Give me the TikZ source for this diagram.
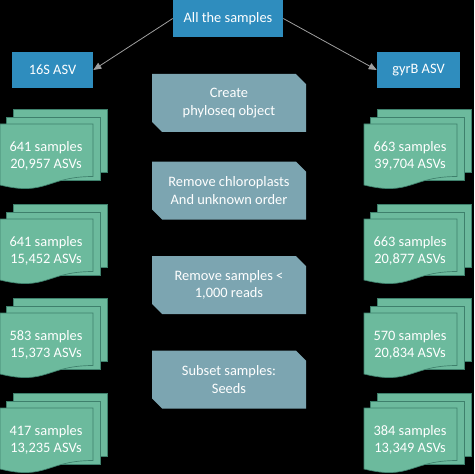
\documentclass[tikz,border=0pt]{standalone}
\usepackage{fontspec}
\setmainfont{Carlito}
\usetikzlibrary{positioning, arrows.meta, shapes.misc}

\definecolor{topblue}{RGB}{47,141,190}
\definecolor{stepgrey}{RGB}{124,165,177}
\definecolor{docgreen}{RGB}{108,186,157}
\definecolor{docedge}{RGB}{62,128,108}

\begin{document}
\begin{tikzpicture}[
  x=0.75pt, y=-0.75pt,
  font=\fontsize{10.8}{13}\selectfont,
  topbox/.style={fill=topblue, text=white, align=center, inner sep=2pt},
  stepbox/.style={chamfered rectangle, chamfered rectangle corners={north east, south west},
    chamfered rectangle xsep=4.5pt, fill=stepgrey, text=white, align=center,
    minimum width=115.5pt, minimum height=43.5pt, inner sep=0pt},
  sheet/.style={fill=docgreen, draw=docedge, line width=0.5pt},
  doctext/.style={text=white, align=center, inner sep=0pt},
  link/.style={-{Triangle[length=6pt, width=5pt]}, draw=gray!75, line width=0.6pt},
  docstack/.pic={
    \draw[sheet] (13,-15) rectangle (107,48);
    \draw[sheet] (6,-7) rectangle (100,56);
    \draw[sheet] (0,0) -- (93,0) -- (93,52.5) .. controls (46.5,52.5) and (46.5,72.5) .. (0,61) -- cycle;
    \node[doctext] (-label) at (46,32) {#1};
  }
]

% black page
\fill[black] (0,0) rectangle (474,474);
\useasboundingbox (0,0) rectangle (474,474);

% source and the two marker tables
\node[topbox, minimum width=82.5pt, minimum height=27.75pt] (all) at (228,18.5) {All the samples};
\node[topbox, minimum width=60.75pt, minimum height=27pt] (s16) at (52.5,70) {16S ASV};
\node[topbox, minimum width=62.25pt, minimum height=27pt] (gyrb) at (418.5,70) {gyrB ASV};

\draw[link] (all.west) -- (s16.east);
\draw[link] (all.east) -- (gyrb.west);

% filtering steps down the middle
\node[stepbox] (create) at (229,103) {Create\\phyloseq object};
\node[stepbox] (chloro) at (229,190.5) {Remove chloroplasts\\And unknown order};
\node[stepbox] (reads) at (229,285) {Remove samples <\\1,000 reads};
\node[stepbox] (seeds) at (229,379.5) {Subset samples:\\Seeds};

% 16S counts
\pic (l1) at (0,124) {docstack={641 samples\\20,957 ASVs}};
\pic (l2) at (0,219) {docstack={641 samples\\15,452 ASVs}};
\pic (l3) at (0,313) {docstack={583 samples\\15,373 ASVs}};
\pic (l4) at (0,408) {docstack={417 samples\\13,235 ASVs}};

% gyrB counts
\pic (r1) at (364,124) {docstack={663 samples\\39,704 ASVs}};
\pic (r2) at (364,219) {docstack={663 samples\\20,877 ASVs}};
\pic (r3) at (364,313) {docstack={570 samples\\20,834 ASVs}};
\pic (r4) at (364,408) {docstack={384 samples\\13,349 ASVs}};

\end{tikzpicture}
\end{document}
